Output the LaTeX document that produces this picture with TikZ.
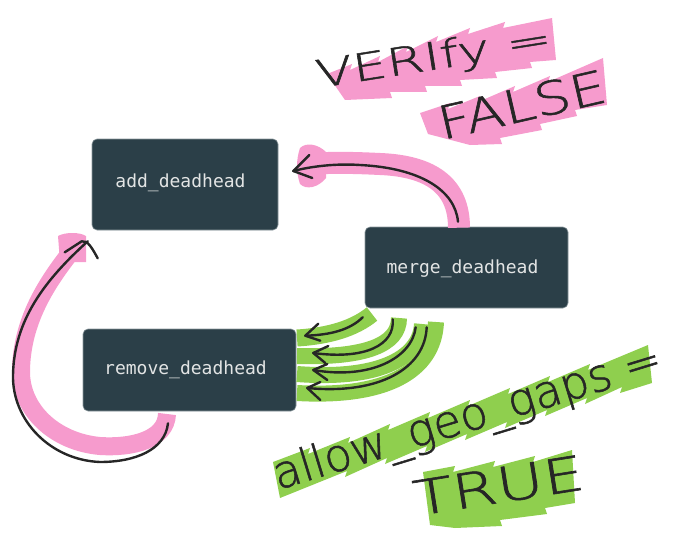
\documentclass[tikz,border=0pt]{standalone}
\usepackage{fontspec}
\setmainfont{Open Sans}
\newfontfamily\codefont{DejaVu Sans Mono}
\newfontfamily\handfont{DejaVuSans-ExtraLight.ttf}[FakeBold=1.2]
\usetikzlibrary{calc}
\definecolor{boxfill}{HTML}{2B3F48}
\definecolor{boxedge}{HTML}{8A979C}
\definecolor{lbltext}{HTML}{E2E4E4}
\definecolor{inkc}{HTML}{262626}
\definecolor{pinkc}{HTML}{F69BCD}
\definecolor{greenc}{HTML}{8FCF4E}
\tikzset{
  box/.style={draw=boxedge, fill=boxfill, rounded corners=5pt, line width=0.6pt, inner sep=0pt},
  lbl/.style={text=lbltext, font=\codefont\fontsize{18}{22}\selectfont, inner sep=0pt},
  ink/.style={draw=inkc, line width=2.4pt, line cap=round, line join=round},
  hand/.style={text=inkc, inner sep=0pt, anchor=base west, font=\handfont\bfseries},
  pinkhl/.style={fill=pinkc, draw=none},
  greenhl/.style={fill=greenc, draw=none},
  pinkband/.style={draw=pinkc, line width=#1, line cap=butt},
  greenband/.style={draw=greenc, line width=#1, line cap=butt}
}
\begin{document}
\begin{tikzpicture}[x=1pt,y=-1pt]
\useasboundingbox (0,0) rectangle (686,543);

% ---------- highlights ----------
% VERIfy =
\path[pinkhl] (327,74) -- (352,64) -- (350,70) -- (380,56) -- (378,62) -- (408,46) -- (406,52) -- (438,36) -- (436,42) -- (470,28) -- (468,34) -- (505,22) -- (503,28) -- (552,18) -- (556,60) -- (530,62) -- (532,68) -- (495,72) -- (497,78) -- (460,80) -- (462,86) -- (425,86) -- (427,92) -- (390,92) -- (392,98) -- (345,100) -- cycle;
% FALSE
\path[pinkhl] (420,113) -- (450,103) -- (448,109) -- (480,96) -- (478,102) -- (515,86) -- (513,92) -- (550,76) -- (548,82) -- (603,58) -- (607,105) -- (575,110) -- (577,116) -- (540,124) -- (542,130) -- (500,138) -- (502,144) -- (470,145) -- (428,134) -- cycle;
% allow_geo_gaps =
\path[greenhl] (273,462) -- (310,448) -- (308,454) -- (350,437) -- (348,443) -- (390,424) -- (388,430) -- (430,412) -- (428,418) -- (470,400) -- (468,406) -- (510,388) -- (508,394) -- (550,376) -- (548,382) -- (590,364) -- (588,370) -- (648,345) -- (652,383) -- (620,393) -- (622,387) -- (585,404) -- (587,398) -- (545,416) -- (547,410) -- (505,428) -- (507,422) -- (465,440) -- (467,434) -- (425,452) -- (427,446) -- (385,464) -- (387,458) -- (345,477) -- (347,471) -- (280,498) -- cycle;
% TRUE
\path[greenhl] (423,472) -- (455,466) -- (453,472) -- (495,461) -- (493,467) -- (535,456) -- (533,462) -- (572,450) -- (575,503) -- (545,508) -- (547,514) -- (500,520) -- (502,526) -- (455,528) -- (430,525) -- cycle;

% ---------- boxes ----------
\node[box, minimum width=186pt, minimum height=91pt] (add) at (185,184.5) {};
\node[box, minimum width=203pt, minimum height=81pt] (merge) at (466.5,267.5) {};
\node[box, minimum width=213pt, minimum height=82pt] (remove) at (189.5,370) {};
\node[lbl] (addt) at (180.5,183) {add\_deadhead};
\node[lbl] (merget) at (462.5,269) {merge\_deadhead};
\node[lbl] (removet) at (185.5,370) {remove\_deadhead};

% ---------- connector end points ----------
\coordinate (ps) at ($(merge.north)+(-8.5,-5)$);
\coordinate (pt) at ($(add.east)+(15,-13.5)$);
\coordinate (ls) at ($(remove.south)+(-21.5,12)$);
\coordinate (lt) at ($(add.south west)+(-4,11)$);
\coordinate (g1s) at ($(merge.south west)+(-2,9)$);
\coordinate (g2s) at ($(merge.south west)+(28,11)$);
\coordinate (g3s) at ($(merge.south west)+(51,19)$);
\coordinate (g4s) at ($(merge.south west)+(62,19)$);
\coordinate (g1t) at ($(remove.north east)+(9,7)$);
\coordinate (g2t) at ($(remove.east)+(17,-17)$);
\coordinate (g3t) at ($(remove.east)+(17,0)$);
\coordinate (g4t) at ($(remove.east)+(11,18)$);

% ---------- pink bands under arrows ----------
\draw[pinkband=22pt] ($(ps)+(1,6)$) .. controls (459,185) and (430,166) .. (380,164) .. controls (340,162) and (322,163) .. (310,164);
\path[pinkhl] (300,148) .. controls (306,142) and (318,144) .. (326,152) -- (326,178) .. controls (318,188) and (306,190) .. (300,184) .. controls (296,172) and (296,160) .. (300,148) -- cycle;
\draw[pinkband=18pt] (167,414) .. controls (166,440) and (132,448) .. (100,446) .. controls (55,442) and (20,410) .. (21,370) .. controls (22,322) and (45,285) .. (71,252);
\path[pinkhl] (58,236) .. controls (65,232) and (80,232) .. (86,236) -- (86,262) -- (60,262) -- cycle;

% ---------- green bands under arrows ----------
\draw[greenband=17pt] (372,314) .. controls (355,328) and (330,336) .. (297,338);
\draw[greenband=16pt] (399,318) .. controls (399,345) and (365,358) .. (297,356);
\draw[greenband=16pt] (422,324) .. controls (420,360) and (375,380) .. (297,374);
\draw[greenband=16pt] (436,322) .. controls (434,372) and (385,398) .. (297,393);

% ---------- ink arrows ----------
\draw[ink] (ps) .. controls (455,190) and (420,168) .. (360,165) .. controls (330,163) and (305,168) .. (pt);
\draw[ink] ($(pt)+(16,-16)$) -- (pt) -- ($(pt)+(19,7)$);

\draw[ink] (ls) .. controls (165,450) and (135,462) .. (100,462) .. controls (50,460) and (12,420) .. (13,375) .. controls (14,320) and (45,280) .. (lt);
\draw[ink] ($(lt)+(-23,11)$) -- ($(lt)+(-6,0)$) .. controls ($(lt)+(0,-1)$) and ($(lt)+(4,6)$) .. ($(lt)+(10,17)$);

\draw[ink] (g1s) .. controls (350,330) and (330,335) .. (g1t);
\draw[ink] ($(g1t)+(13,-12)$) -- (g1t) -- ($(g1t)+(15,5)$);
\draw[ink] (g2s) .. controls (395,345) and (365,360) .. (g2t);
\draw[ink] ($(g2t)+(15,-7)$) -- (g2t) -- ($(g2t)+(12,10)$);
\draw[ink] (g3s) .. controls (412,358) and (370,380) .. (g3t);
\draw[ink] ($(g3t)+(14,-6)$) -- (g3t) -- ($(g3t)+(14,10)$);
\draw[ink] (g4s) .. controls (425,368) and (380,395) .. (g4t);
\draw[ink] ($(g4t)+(13,-6)$) -- (g4t) -- ($(g4t)+(13,12)$);

% ---------- handwritten notes ----------
\node[hand, rotate=9] (verify) at (318,88) {\resizebox{238pt}{29pt}{VERIfy =}};
\node[hand, rotate=13] (false) at (442,140) {\resizebox{171pt}{34pt}{FALSE}};
\node[hand, rotate=17] (allow) at (278,490) {\resizebox{404pt}{!}{allow\_geo\_gaps =}};
\node[hand, rotate=9] (true) at (416,516) {\resizebox{172pt}{35pt}{TRUE}};
\end{tikzpicture}
\end{document}
